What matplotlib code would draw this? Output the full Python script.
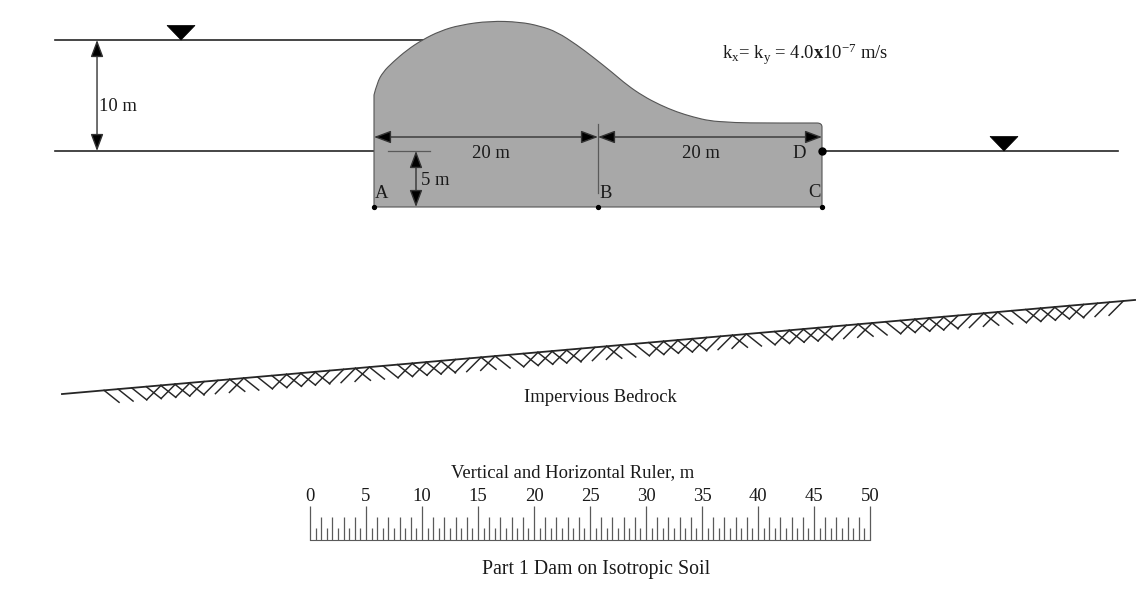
import matplotlib
matplotlib.use("Agg")
import matplotlib.pyplot as plt
from matplotlib.path import Path
from matplotlib.patches import PathPatch, Polygon

plt.rcParams['font.family'] = ['Liberation Serif', 'DejaVu Serif']
plt.rcParams['mathtext.fontset'] = 'custom'
plt.rcParams['mathtext.rm'] = 'Liberation Serif'
plt.rcParams['mathtext.it'] = 'Liberation Serif:italic'
plt.rcParams['mathtext.bf'] = 'Liberation Serif:bold'

W, H = 1148, 607
SCALE = 11.2            # pixels per metre
ORIGIN_X, ORIGIN_Y = 374, 207  # point A in pixels

# Dam outline, metres (x from A, y above A)
dam_x = [0, 0, 0.27, 0.80, 1.70, 2.95, 4.29, 5.89, 7.68, 10.36, 13.04, 14.82, 16.34, 18.13, 19.55,
         21.34, 22.59, 24.02, 25.54, 27.05, 28.48, 30.0, 31.52, 32.95, 39.55, 40, 40]
dam_y = [0, 10.0, 11.07, 12.05, 12.95, 14.02, 14.91, 15.71, 16.25, 16.61, 16.52, 16.16, 15.63, 14.46, 13.39,
         11.96, 10.89, 9.91, 9.11, 8.48, 8.04, 7.68, 7.59, 7.50, 7.50, 7.14, 0]

# Water levels, metres
up_level = 14.91
down_level = 5.0
up_x = [-28.45, 4.5]
low_x = [-28.45, 0]
right_x = [40, 66.45]

# Bedrock line end points, metres
rock_x = [-27.86, 67.95]
rock_y = [-16.70, -8.30]

# Hatch pattern: metres along x from each group start
hatch_start = -21.63
hatch_period = 11.22
back_offsets = [0, 1.29, 2.59, 3.84, 5.13, 8.75, 10.0]
fwd_offsets = [2.62, 3.91, 5.21, 6.46, 7.7, 8.75, 10.0]

# Ruler
ruler_major = [0, 5, 10, 15, 20, 25, 30, 35, 40, 45, 50]
ruler_mid = [v for v in range(0, 51) if v % 5]
ruler_minor = [v + 0.5 for v in range(0, 50)]

INK = '#262626'
GREY = '#5a5a5a'
fig = plt.figure(figsize=(W / 100, H / 100), dpi=100, facecolor='white')
ax = fig.add_axes([0, 0, 1, 1])
ax.set_xlim(-ORIGIN_X / SCALE, (W - ORIGIN_X) / SCALE)
ax.set_ylim((ORIGIN_Y - H) / SCALE, ORIGIN_Y / SCALE)
ax.axis('off')

# water lines
ax.plot(up_x, [up_level] * 2, color=INK, lw=1.2, zorder=1)
ax.plot(low_x, [down_level] * 2, color=INK, lw=1.2, zorder=1)
ax.plot(right_x, [down_level] * 2, color=INK, lw=1.2, zorder=1)

# dam body: straight bottom and sides, smoothed crest
pts = list(zip(dam_x, dam_y))
verts = [pts[0], pts[1]]
codes = [Path.MOVETO, Path.LINETO]
for i in range(2, len(pts) - 3):
    mid = ((pts[i][0] + pts[i + 1][0]) / 2, (pts[i][1] + pts[i + 1][1]) / 2)
    verts += [pts[i], mid]
    codes += [Path.CURVE3, Path.CURVE3]
verts += [pts[-3], (40, 7.5), pts[-2], pts[-1], pts[0]]
codes += [Path.LINETO, Path.CURVE3, Path.CURVE3, Path.LINETO, Path.CLOSEPOLY]
ax.add_patch(PathPatch(Path(verts, codes), facecolor='#a8a8a8', edgecolor='#555555', lw=0.8, zorder=2))

# water table triangles
for cx, lvl in [(-17.23, up_level), (56.25, down_level)]:
    ax.add_patch(Polygon([(cx - 1.25, lvl + 1.3), (cx + 1.25, lvl + 1.3), (cx, lvl)],
                         closed=True, facecolor='black', edgecolor='black', lw=0.5, zorder=3))

# dimension arrows
def arrow(x0, y0, x1, y1):
    ax.annotate('', xy=(x1, y1), xytext=(x0, y0), zorder=4,
                arrowprops=dict(arrowstyle='<|-|>,head_length=0.8,head_width=0.3',
                                lw=1.0, shrinkA=0, shrinkB=0, mutation_scale=13,
                                fc='black', ec='#333333'))

arrow(-24.73, 5, -24.73, up_level)
arrow(0, 6.25, 20, 6.25)
arrow(20, 6.25, 40, 6.25)
arrow(3.75, 0, 3.75, 5)
ax.plot([1.25, 5.0], [5, 5], color=GREY, lw=0.9, zorder=3)
ax.plot([20, 20], [1.25, 7.45], color=GREY, lw=0.9, zorder=3)

# nodes
ax.plot([0, 20, 40], [0, 0, 0], 'o', color='black', ms=2.8, zorder=5)
ax.plot([40], [5], 'o', color='black', ms=5, zorder=5)

# bedrock
ax.plot(rock_x, rock_y, color=INK, lw=1.3, zorder=1)
slope = (rock_y[1] - rock_y[0]) / (rock_x[1] - rock_x[0])
def rock(x):
    return rock_y[0] + slope * (x - rock_x[0])
for k in range(-1, 8):
    g = hatch_start + k * hatch_period
    for o in back_offsets:
        x = g + o
        if -24.5 < x < 64.8:
            ax.plot([x, x + 1.34], [rock(x), rock(x) - 1.07], color=INK, lw=1.05, zorder=1)
    for o in fwd_offsets:
        x = g + o
        if x > hatch_start:
            ax.plot([x, x - 1.28], [rock(x), rock(x) - 1.28], color=INK, lw=1.05, zorder=1)

# labels
FS = 13.4
def label(x, y, s, **kw):
    kw.setdefault('fontsize', FS)
    ax.text(x, y - 0.2, s, ha='center', va='center', color='#1a1a1a', zorder=6, **kw)

label(-22.86, 9.2, '10 m')
label(10.4, 5.0, '20 m')
label(29.2, 5.0, '20 m')
label(5.5, 2.55, '5 m')
label(0.65, 1.42, 'A')
label(20.65, 1.42, 'B')
label(39.3, 1.5, 'C')
label(38.0, 5.0, 'D')
label(38.5, 13.8, r'k$_{\mathrm{x}}$= k$_{\mathrm{y}}$ = 4.0$\mathbf{x}$10$^{-7}$ m/s')
label(20.2, -16.77, 'Impervious Bedrock')
label(17.75, -23.52, 'Vertical and Horizontal Ruler, m')
label(19.8, -32.15, 'Part 1 Dam on Isotropic Soil', fontsize=14.3)

# ruler axes
rax = fig.add_axes([310 / W, (H - 540) / H, 560 / W, 34 / H])
rax.set_xlim(0, 50)
rax.set_ylim(0, 34)
rax.patch.set_alpha(0)
for s in ('left', 'right', 'top'):
    rax.spines[s].set_visible(False)
rax.spines['bottom'].set_color(GREY)
rax.spines['bottom'].set_linewidth(0.8)
rax.set_yticks([])
rax.set_xticks(ruler_major)
rax.set_xticklabels([str(v) for v in ruler_major], fontsize=FS, color='#1a1a1a')
rax.tick_params(axis='x', bottom=False, top=False, length=0, labelbottom=False, labeltop=True, pad=0.5)
rax.vlines(ruler_major, 0, 34, color=GREY, lw=0.9, clip_on=False)
rax.vlines(ruler_mid, 0, 23, color=GREY, lw=0.9)
rax.vlines(ruler_minor, 0, 12, color=GREY, lw=0.9)

fig.savefig('out.png', dpi=100)
